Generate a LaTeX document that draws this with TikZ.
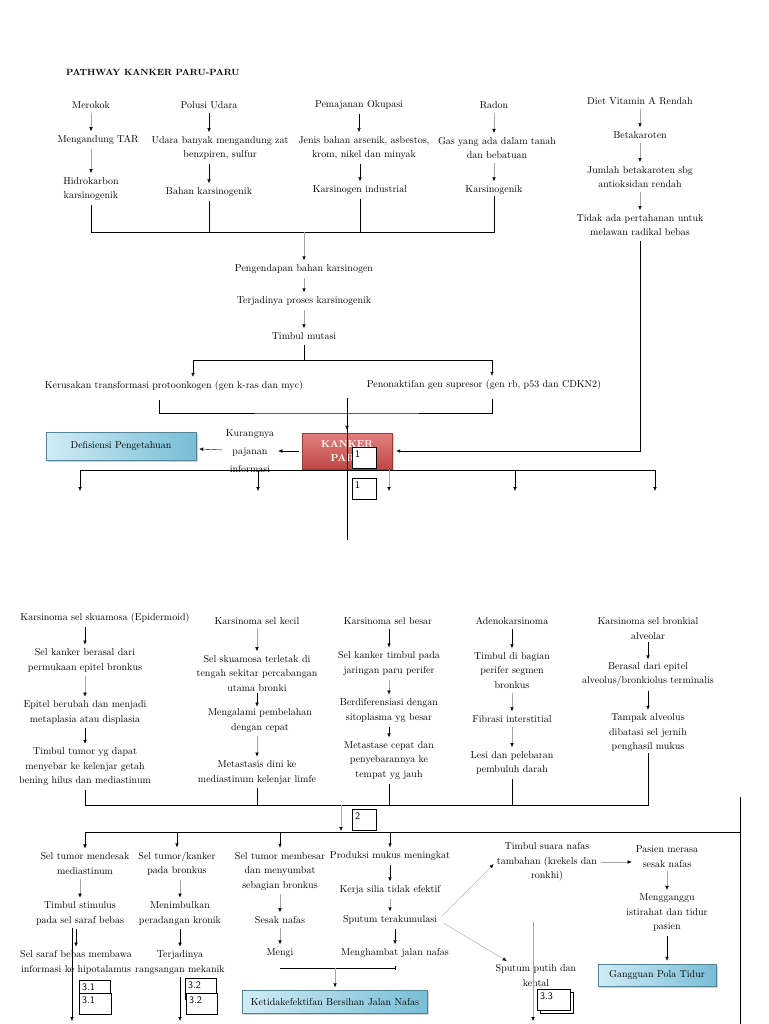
\documentclass[tikz,border=0pt]{standalone}
\usepackage{tikz}
\usetikzlibrary{arrows.meta,shadows,positioning}
\definecolor{boxlight}{RGB}{208,236,245}
\definecolor{boxdark}{RGB}{120,190,214}
\definecolor{redlight}{RGB}{228,128,126}
\definecolor{reddark}{RGB}{190,72,70}
\begin{document}
\begin{tikzpicture}[x=1pt,y=-1pt,
    txt/.style={align=center, font=\fontsize{10}{14.5}\selectfont, inner sep=1pt},
    arr/.style={-{Latex[length=4pt,width=3.5pt]}, shorten <=3pt, shorten >=3pt},
    garr/.style={arr, draw=black!35, -{Latex[length=4pt,width=3.5pt,color=black]}},
    bluebox/.style={txt, draw=boxdark!70!black, left color=boxlight, right color=boxdark,
        drop shadow={shadow xshift=1.5pt, shadow yshift=-1.5pt, fill=black!35}},
    redbox/.style={txt, draw=reddark!80!black, top color=redlight, bottom color=reddark,
        text=white, font=\fontsize{10}{14.5}\selectfont\bfseries,
        minimum width=90pt, minimum height=36pt,
        drop shadow={shadow xshift=1.5pt, shadow yshift=-1.5pt, fill=black!35}},
    numbox/.style={draw, fill=white, anchor=north west, align=left,
        font=\sffamily\fontsize{10}{11}\selectfont, inner xsep=3pt, inner ysep=2pt,
        text width=18pt, text height=8pt, text depth=9pt}]
\useasboundingbox (0,0) rectangle (768,1024);

% penyebab
\node[txt, anchor=west, font=\fontsize{9}{11}\selectfont\bfseries] (title) at (65,72) {PATHWAY KANKER PARU-PARU};
\node[txt] (merokok) at (91,105) {Merokok};
\node[txt] (tar) at (98,140) {Mengandung TAR};
\node[txt] (hidro) at (91,189) {Hidrokarbon\\karsinogenik};
\node[txt] (polusi) at (209,105) {Polusi Udara};
\node[txt] (udara) at (220,148) {Udara banyak mengandung zat\\benzpiren, sulfur};
\node[txt] (bahan) at (209,192) {Bahan karsinogenik};
\node[txt] (okupasi) at (359,105) {Pemajanan Okupasi};
\node[txt] (jenis) at (364,148) {Jenis bahan arsenik, asbestos,\\krom, nikel dan minyak};
\node[txt] (industri) at (360,190) {Karsinogen industrial};
\node[txt] (radon) at (494,105) {Radon};
\node[txt] (gas) at (497,148) {Gas yang ada dalam tanah\\dan bebatuan};
\node[txt] (karsino) at (494,190) {Karsinogenik};
\node[txt] (diet) at (640,101) {Diet Vitamin A Rendah};
\node[txt] (beta) at (640,135) {Betakaroten};
\node[txt] (jumlah) at (640,177) {Jumlah betakaroten sbg\\antioksidan rendah};
\node[txt] (tidak) at (640,225) {Tidak ada pertahanan untuk\\melawan radikal bebas};

\draw[garr] (merokok.south) -- (merokok |- tar.north);
\draw[garr] (merokok |- tar.south) -- (hidro.north);
\draw[arr] (polusi) -- (polusi |- udara.north);
\draw[arr] (polusi |- udara.south) -- (bahan);
\draw[arr] (okupasi) -- (okupasi |- jenis.north);
\draw[arr] (industri |- jenis.south) -- (industri);
\draw[garr] (radon) -- (radon |- gas.north);
\draw[garr] (radon |- gas.south) -- (karsino);
\draw[garr] (diet) -- (beta);
\draw[garr] (beta) -- (jumlah);
\draw[garr] (jumlah) -- (tidak);

\coordinate (bar) at (304,232);
\draw[shorten <=3pt] (hidro) -- (hidro |- bar) -- (karsino |- bar) -- (karsino);
\draw[shorten <=3pt] (bahan) -- (bahan |- bar);
\draw[shorten <=3pt] (industri) -- (industri |- bar);

% proses
\node[txt] (endapan) at (304,269) {Pengendapan bahan karsinogen};
\node[txt] (proses) at (304,301) {Terjadinya proses karsinogenik};
\node[txt] (mutasi) at (304,336) {Timbul mutasi};
\node[txt] (rusak) at (174,386) {Kerusakan transformasi protoonkogen (gen k-ras dan myc)};
\node[txt] (penon) at (484,385) {Penonaktifan gen supresor (gen rb, p53 dan CDKN2)};
\draw[garr, shorten <=0pt] (bar) -- (endapan);
\draw[garr] (endapan) -- (proses);
\draw[garr] (proses) -- (mutasi);
\coordinate (split) at (304,360);
\draw[shorten <=4pt] (mutasi) -- (split);
\draw[arr, shorten <=0pt] (split) -| ([xshift=19pt]rusak.north);
\draw[arr, shorten <=0pt] (split) -| ([xshift=8pt]penon.north);
\coordinate (join) at (347,413);
\draw[shorten <=8pt, shorten >=8pt] ([xshift=-15pt]rusak.south) |- (join) -| ([xshift=8pt]penon.south);

% kanker paru
\node[redbox] (kanker) at (347,451) {KANKER\\PARU};
\node[txt, font=\fontsize{10}{18}\selectfont] (kurang) at (250,451) {Kurangnya\\pajanan\\informasi};
\node[bluebox, minimum width=150pt, minimum height=28pt] (defis) at (121,446) {Defisiensi Pengetahuan};
\coordinate (vtop) at (347,398);
\coordinate (vbot) at (347,540);
\draw (vtop) -- (vbot);
\draw[arr, shorten <=0pt] (join) -- (kanker.north);
\draw[arr] (kanker) -- (kurang);
\draw[arr] (kurang) -- (defis);
\draw[arr, shorten <=4pt, shorten >=4pt] (tidak) |- (kanker.east);
\node[numbox] (n1a) at (352,447) {1};
\node[numbox] (n1b) at (352,478) {1};
\coordinate (dist) at (347,470);
\draw (80,470) -- (655,470);
\foreach \x [count=\i] in {80,258,515,655}
    \coordinate (d\i) at (\x,491);
\foreach \i in {1,...,4}
    \draw[arr, shorten <=0pt, shorten >=0pt] (d\i |- dist) -- (d\i);
\coordinate (dg) at (389,491);
\draw[garr, shorten <=0pt, shorten >=0pt] (dg |- dist) -- (dg);

% jenis karsinoma
\node[txt] (k1) at (105,618) {Karsinoma sel skuamosa (Epidermoid)};
\node[txt] (a1) at (85,660.5) {Sel kanker berasal dari\\permukaan epitel bronkus};
\node[txt] (b1) at (85,712.5) {Epitel berubah dan menjadi\\metaplasia atau displasia};
\node[txt] (c1) at (85,767) {Timbul tumor yg dapat\\menyebar ke kelenjar getah\\bening hilus dan mediastinum};
\node[txt] (k2) at (257,621) {Karsinoma sel kecil};
\node[txt] (a2) at (257,673.5) {Sel skuamosa terletak di\\tengah sekitar percabangan\\utama bronki};
\node[txt] (b2) at (260,720.5) {Mengalami pembelahan\\dengan cepat};
\node[txt] (c2) at (257,772.5) {Metastasis dini ke\\mediastinum kelenjar limfe};
\node[txt] (k3) at (388,621) {Karsinoma sel besar};
\node[txt] (a3) at (389,663.5) {Sel kanker timbul pada\\jaringan paru perifer};
\node[txt] (b3) at (389,710.5) {Berdiferensiasi dengan\\sitoplasma yg besar};
\node[txt] (c3) at (389,760.5) {Metastase cepat dan\\penyebarannya ke\\tempat yg jauh};
\node[txt] (k4) at (512,621) {Adenokarsinoma};
\node[txt] (a4) at (512,670.5) {Timbul di bagian\\perifer segmen\\bronkus};
\node[txt] (b4) at (512,719) {Fibrasi interstitial};
\node[txt] (c4) at (512,763) {Lesi dan pelebaran\\pembuluh darah};
\node[txt] (k5) at (648,628.5) {Karsinoma sel bronkial\\alveolar};
\node[txt] (a5) at (648,674.5) {Berasal dari epitel\\alveolus/bronkiolus terminalis};
\node[txt] (b5) at (648,733) {Tampak alveolus\\dibatasi sel jernih\\penghasil mukus};

\draw[arr] (k1.south -| a1) -- (a1);
\draw[garr] (a1) -- (b1);
\draw[arr] (b1) -- (c1);
\draw[garr] (k2) -- (a2);
\draw[arr, shorten <=0pt, shorten >=1pt] (a2.south) -- (a2.south |- b2.north);
\draw[garr] (k2 |- b2.south) -- (c2);
\draw[arr] (k3.south -| a3) -- (a3);
\draw[garr] (a3) -- (b3);
\draw[arr] (b3) -- (c3);
\draw[arr] (k4) -- (a4);
\draw[garr] (a4) -- (b4);
\draw[garr] (b4) -- (c4);
\draw[arr, shorten <=2pt, shorten >=2pt] (k5) -- (a5);
\draw[arr] (a5) -- (b5);

\coordinate (bar2) at (341,805);
\draw[shorten <=3pt] (c1) -- (c1 |- bar2) -- (b5 |- bar2) -- (b5);
\foreach \n in {c2,c3,c4}
    \draw[shorten <=3pt] (\n) -- (\n |- bar2);
\coordinate (bar3) at (341,832);
\draw[garr, shorten <=0pt, shorten >=1pt] (bar2) -- (bar3);
\node[numbox] (n2) at (352,809) {2};
\coordinate (r1) at (740,797);
\coordinate (r2) at (740,1024);
\draw (r1) -- (r2);

% manifestasi
\node[txt] (s1) at (85,863.5) {Sel tumor mendesak\\mediastinum};
\node[txt] (t1) at (80,913.5) {Timbul stimulus\\pada sel saraf bebas};
\node[txt] (u1) at (76,962.5) {Sel saraf bebas membawa\\informasi ke hipotalamus};
\node[txt] (s2) at (177,863.5) {Sel tumor/kanker\\pada bronkus};
\node[txt] (t2) at (180,913.5) {Menimbulkan\\peradangan kronik};
\node[txt] (u2) at (180,962.5) {Terjadinya\\rangsangan mekanik};
\node[txt] (s3) at (280,871) {Sel tumor membesar\\dan menyumbat\\sebagian bronkus};
\node[txt] (t3) at (280,920) {Sesak nafas};
\node[txt] (u3) at (280,953) {Mengi};
\node[txt] (s4) at (390,856) {Produksi mukus meningkat};
\node[txt] (t4) at (390,890) {Kerja silia tidak efektif};
\node[txt] (v4) at (390,920) {Sputum terakumulasi};
\node[txt] (w4) at (395,953) {Menghambat jalan nafas};
\node[txt] (suara) at (547,862) {Timbul suara nafas\\tambahan (krekels dan\\ronkhi)};
\node[txt] (putih) at (536,975.5) {Sputum putih dan\\kental};
\node[txt] (pasien) at (667,856.5) {Pasien merasa\\sesak nafas};
\node[txt] (ganggu) at (667,913) {Mengganggu\\istirahat dan tidur\\pasien};
\node[bluebox, minimum width=185pt, minimum height=23pt] (ketidak) at (335,1002) {Ketidakefektifan Bersihan Jalan Nafas};
\node[bluebox, minimum width=118pt, minimum height=22pt] (gangguan) at (657,975) {Gangguan Pola Tidur};

\draw (s1 |- bar3) -- (bar3 -| r1);
\foreach \n in {s1,s2,s3,s4}
    \draw[arr, shorten <=0pt] (\n |- bar3) -- (\n);
\draw[garr] (t1.north |- s1.south) -- (t1.north);
\draw[arr] (u1.north |- t1.south) -- (u1.north);
\draw[garr] (s2.south -| t2) -- (t2);
\draw[arr] (t2) -- (u2);
\draw[garr] (s3) -- (t3);
\draw[garr] (t3) -- (u3);
\draw[arr] (s4) -- (t4);
\draw[garr] (t4) -- (v4);
\draw[arr] (v4.south -| w4) -- (w4);
\coordinate (bar4) at (335,968);
\draw[-{Bar[width=4pt]}] (u3 |- bar4) -- (bar4 -| w4);
\draw[garr, shorten <=0pt] (bar4) -- (ketidak);
\draw[garr, shorten <=6pt] (v4.east) -- (suara.west);
\draw[garr, shorten <=6pt, shorten >=5pt] (v4.east) -- ([xshift=-25pt]putih.north);
\draw[garr] (suara) -- (suara -| pasien.west);
\draw[garr] (pasien) -- (ganggu);
\draw[arr] (ganggu) -- (ganggu |- gangguan.north);

\coordinate (g1) at (533,922);
\coordinate (g2) at (533,1021);
\draw[garr, shorten <=0pt, shorten >=0pt] (g1) -- (g2);
\coordinate (h1) at (72,928);
\coordinate (h2) at (72,1021);
\draw[arr, shorten <=0pt, shorten >=0pt] (h1) -- (h2);
\coordinate (m1) at (180,977);
\coordinate (m2) at (180,1021);
\draw[arr, shorten <=0pt, shorten >=0pt] (m1) -- (m2);
\node[numbox, text width=25pt] (n31a) at (79,980) {3.1};
\node[numbox, text width=26pt] (n31b) at (79,993) {3.1};
\node[numbox, text width=25pt] (n32a) at (185,978) {3.2};
\node[numbox, text width=25pt] (n32b) at (186,993) {3.2};
\node[numbox, text width=27pt] (n33a) at (540,992) {};
\node[numbox, text width=27pt] (n33b) at (537,989) {3.3};
\end{tikzpicture}
\end{document}
